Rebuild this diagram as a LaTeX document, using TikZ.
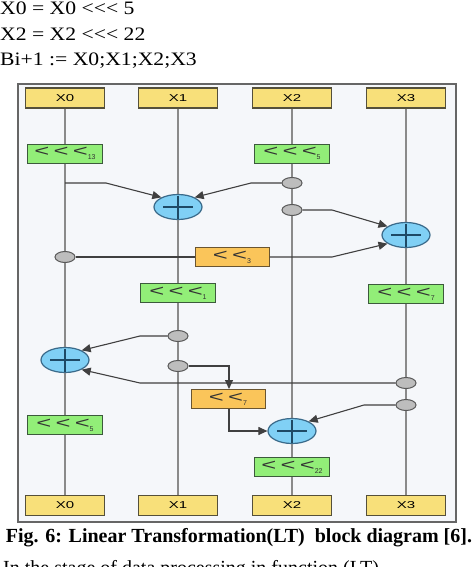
\documentclass[tikz,border=0pt]{standalone}
\usepackage{fontspec}
\setmainfont{Liberation Serif}
\newfontfamily\boxfont{Liberation Sans}
\usetikzlibrary{shapes.geometric,arrows.meta}
\definecolor{ylw}{HTML}{F8E07A}
\definecolor{ylwb}{HTML}{55503A}
\definecolor{grn}{HTML}{92EE78}
\definecolor{grnb}{HTML}{3C5A3C}
\definecolor{org}{HTML}{FAC55A}
\definecolor{orgb}{HTML}{6A5530}
\definecolor{blu}{HTML}{80D0F5}
\definecolor{blub}{HTML}{3A6A8A}
\definecolor{plus}{HTML}{1E4A66}
\definecolor{dotc}{HTML}{BDBDBD}
\definecolor{vline}{HTML}{8A8A8A}
\definecolor{conn}{HTML}{404040}
\definecolor{framefill}{HTML}{F5F7FA}
\newcommand{\rot}[1]{\scalebox{1.6}[1]{<{}\,<{}\,<}\raisebox{-3pt}{\fontsize{7}{7}\selectfont #1}}
\newcommand{\sh}[1]{\scalebox{1.6}[1]{<{}\,<}\raisebox{-3pt}{\fontsize{7}{7}\selectfont #1}}
\begin{document}
\begin{tikzpicture}[x=1pt,y=-1pt,
  ybox/.style={draw=ylwb,line width=1.3pt,fill=ylw,minimum width=79pt,minimum height=20pt,inner sep=0pt,font=\boxfont\fontsize{10}{10}\selectfont},
  gbox/.style={draw=grnb,line width=1pt,fill=grn,minimum width=75pt,minimum height=19pt,inner sep=0pt,font=\boxfont\fontsize{16}{16}\selectfont,text=black!80},
  obox/.style={draw=orgb,line width=1pt,fill=org,minimum width=74pt,minimum height=19pt,inner sep=0pt,font=\boxfont\fontsize{16}{16}\selectfont,text=black!80},
  adder/.style={ellipse,draw=blub,line width=1.2pt,fill=blu,minimum width=48pt,minimum height=25pt,inner sep=0pt},
  pl/.style={draw=plus,line width=1.6pt},
  jdot/.style={ellipse,draw=black!65,line width=1pt,fill=dotc,minimum width=20pt,minimum height=11pt,inner sep=0pt},
  vl/.style={draw=vline,line width=2.4pt},
  cn/.style={draw=conn,line width=1.1pt},
  arr/.style={cn,-{Triangle[length=9pt,width=8pt]}}
]
\useasboundingbox (0,0) rectangle (474,567);
% texts
\node[anchor=base west,inner sep=0pt,font=\fontsize{19}{19}\selectfont,xscale=1.14] (t1) at (0,15) {X0 = X0 <{}<{}< 5};
\node[anchor=base west,inner sep=0pt,font=\fontsize{19}{19}\selectfont,xscale=1.14] (t2) at (0,41) {X2 = X2 <{}<{}< 22};
\node[anchor=base west,inner sep=0pt,font=\fontsize{19}{19}\selectfont,xscale=1.14] (t3) at (0,66) {Bi+1 := X0;X1;X2;X3};
% frame
\node[draw=black!60,line width=1.5pt,fill=framefill,minimum width=438pt,minimum height=438pt,inner sep=0pt] (frame) at (237,303) {};
% top and bottom boxes
\foreach \i/\x in {0/65,1/178,2/292,3/406}{
  \node[ybox] (T\i) at (\x,98) {\scalebox{1.5}[1]{X\i}};
  \node[ybox] (B\i) at (\x,505.5) {\scalebox{1.5}[1]{X\i}};
}
% column 0
\node[gbox] (g13) at (65,153.5) {\rot{13}};
\node[jdot] (d0) at (65,257) {};
\node[adder] (a3) at (65,360) {};
\node[gbox] (g5a) at (65,425) {\rot{5}};
% column 1
\node[adder] (a1) at (178,207) {};
\node[gbox] (g1) at (178,293) {\rot{1}};
\node[jdot] (d1a) at (178,336) {};
\node[jdot] (d1b) at (178,366) {};
% column 2
\node[gbox] (g5b) at (292,153.5) {\rot{5}};
\node[jdot] (d2a) at (292,183) {};
\node[jdot] (d2b) at (292,210) {};
\node[adder] (a4) at (292,431) {};
\node[gbox] (g22) at (292,467) {\rot{22}};
% column 3
\node[adder] (a2) at (406,235) {};
\node[gbox] (g7) at (406,294) {\rot{7}};
\node[jdot] (d3a) at (406,383) {};
\node[jdot] (d3b) at (406,405) {};
% orange boxes
\node[obox] (o3) at (232,257) {\sh{3}};
\node[obox] (o7) at (228,399) {\sh{7}};
% plus signs
\foreach \a in {a1,a2,a3,a4}{
  \draw[pl] (\a.center) ++(0,-11.5) -- ++(0,23);
  \draw[pl] (\a.center) ++(-15,0) -- ++(30,0);
}
% vertical lines
\draw[vl] (T0) -- (g13) (g13) -- (d0) (d0) -- (a3) (a3) -- (g5a) (g5a) -- (B0);
\draw[vl] (T1) -- (a1) (a1) -- (g1) (g1) -- (d1a) (d1a) -- (d1b) (d1b) -- (B1);
\draw[vl] (T2) -- (g5b) (g5b) -- (d2a) (d2a) -- (d2b) (d2b) -- (a4) (a4) -- (g22) (g22) -- (B2);
\draw[vl] (T3) -- (a2) (a2) -- (g7) (g7) -- (d3a) (d3a) -- (d3b) (d3b) -- (B3);
% connectors
\coordinate (b0) at (65,183);
\draw[arr] (b0) -- ++(41,0) -- (a1.150);
\draw[arr] (d2a.west) -- (251,183) -- (a1.30);
\draw[arr] (d2b.east) -- (332,210) -- (a2.155);
\draw[cn] (d0.east) -- (o3.west);
\draw[arr] (o3.east) -- (332,257) -- (a2.205);
\draw[arr] (d1a.west) -- (140,336) -- (a3.30);
\draw[arr] (d1b.east) -- (229,366) -- (o7.north -| 229,0);
\draw[arr] (o7.south -| 229,0) -- (229,431) -- (a4.west);
\draw[arr] (d3a.west) -- (140,383) -- (a3.330);
\draw[arr] (d3b.west) -- (364,405) -- (a4.30);
% caption
\node[anchor=base,inner sep=0pt,font=\bfseries\fontsize{20}{20}\selectfont] (cap) at (239,542) {Fig. 6: Linear Transformation(LT)\ \ block diagram [6].};
\node[anchor=base west,inner sep=0pt,font=\fontsize{20}{20}\selectfont] (next) at (3,574) {In the stage of data processing in function (LT)};
\end{tikzpicture}
\end{document}
